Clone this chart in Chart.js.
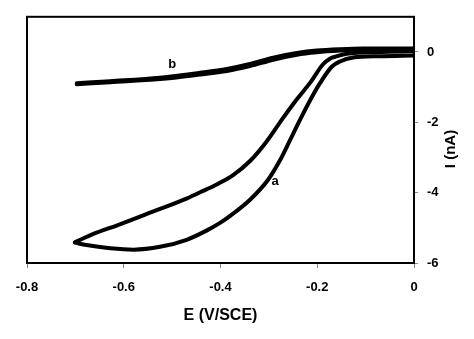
<!DOCTYPE html>
<html>
<head>
<meta charset="utf-8">
<script src="https://cdn.jsdelivr.net/npm/chart.js@4/dist/chart.umd.min.js"></script>
<style>
  html, body { margin: 0; padding: 0; background: #fff; }
  #wrap { width: 474px; height: 339px; }
</style>
</head>
<body>
<div id="wrap"><canvas id="c" width="474" height="339"></canvas></div>
<script>
// ---- data ----
const xTicks = [-0.8, -0.6, -0.4, -0.2, 0];
const xTickLabels = ['-0.8', '-0.6', '-0.4', '-0.2', '0'];
const yTicks = [-6, -4, -2, 0];
const yTickLabels = ['-6', '-4', '-2', '0'];

// curve a, cathodic sweep (0 -> -0.7 V)
const aFwdE = [0, -0.070, -0.126, -0.153, -0.170, -0.194, -0.215, -0.236, -0.256, -0.277, -0.302, -0.339, -0.380, -0.401, -0.429, -0.470, -0.525, -0.580, -0.628, -0.677, -0.701];
const aFwdI = [-0.10, -0.12, -0.16, -0.27, -0.42, -0.88, -1.38, -1.94, -2.50, -3.08, -3.64, -4.20, -4.66, -4.86, -5.08, -5.34, -5.54, -5.62, -5.58, -5.49, -5.42];
// curve a, return sweep (-0.7 -> 0 V)
const aRetE = [-0.701, -0.664, -0.608, -0.540, -0.469, -0.442, -0.407, -0.374, -0.339, -0.305, -0.277, -0.243, -0.215, -0.188, -0.174, -0.159, -0.139, -0.070, 0];
const aRetI = [-5.41, -5.18, -4.90, -4.54, -4.16, -3.99, -3.76, -3.50, -3.10, -2.55, -2.00, -1.36, -0.88, -0.35, -0.19, -0.12, -0.05, 0.00, 0.02];

// curve b (two overlapping sweeps)
const bE = [-0.697, -0.628, -0.525, -0.442, -0.387, -0.339, -0.291, -0.242, -0.201, -0.153, -0.105, 0];
const bFwdI = [-0.92, -0.86, -0.77, -0.64, -0.54, -0.40, -0.22, -0.08, -0.01, 0.04, 0.07, 0.06];
const bRetI = [-0.89, -0.83, -0.73, -0.59, -0.48, -0.34, -0.16, -0.03, 0.04, 0.08, 0.10, 0.10];

// curve labels
const curveLabels = ['a', 'b'];
const curveLabelE = [-0.287, -0.500];
const curveLabelI = [-3.68, -0.35];

const xTitle = 'E (V/SCE)';
const yTitle = 'I (nA)';

// ---- build ----
const pts = (E, I) => E.map((e, i) => ({ x: e, y: I[i] }));
const FONT = "'Liberation Sans', Arial, Helvetica, sans-serif";

function lineDs(E, I, w) {
  return {
    data: pts(E, I), showLine: true, borderColor: '#000', backgroundColor: '#000',
    borderWidth: w, pointRadius: 0, cubicInterpolationMode: 'monotone', fill: false,
    borderCapStyle: 'round', borderJoinStyle: 'round'
  };
}

const framePlugin = {
  id: 'frame',
  afterDatasetsDraw(chart) {
    const { ctx, chartArea: a, scales } = chart;
    ctx.save();
    ctx.strokeStyle = '#000';
    ctx.lineWidth = 2;
    ctx.strokeRect(a.left, a.top, a.right - a.left, a.bottom - a.top);
    // curve labels
    ctx.fillStyle = '#000';
    ctx.font = 'bold 13px ' + FONT;
    ctx.textAlign = 'center';
    ctx.textBaseline = 'middle';
    curveLabels.forEach((t, i) => {
      ctx.fillText(t, scales.x.getPixelForValue(curveLabelE[i]), scales.y.getPixelForValue(curveLabelI[i]));
    });
    // y axis title, reading bottom to top
    ctx.font = 'bold 15px ' + FONT;
    ctx.translate(451, 149);
    ctx.rotate(-Math.PI / 2);
    ctx.fillText(yTitle, 0, 0);
    ctx.restore();
  }
};

new Chart(document.getElementById('c'), {
  type: 'scatter',
  data: {
    datasets: [
      lineDs(aFwdE, aFwdI, 4),
      lineDs(aRetE, aRetI, 4),
      lineDs(bE, bFwdI, 4),
      lineDs(bE, bRetI, 4)
    ]
  },
  options: {
    responsive: false,
    animation: false,
    devicePixelRatio: 1,
    layout: { padding: { left: 27, top: 13, right: 0, bottom: 0 } },
    plugins: { legend: { display: false }, tooltip: { enabled: false } },
    scales: {
      x: {
        type: 'linear', position: 'bottom', min: -0.8, max: 0,
        afterBuildTicks: s => { s.ticks = xTicks.map(v => ({ value: v })); },
        afterFit: s => { s.height = 76; },
        ticks: {
          color: '#000', font: { family: FONT, size: 13, weight: 'bold' }, padding: 12,
          maxRotation: 0, autoSkip: false,
          callback: (v, i) => xTickLabels[i]
        },
        grid: { display: true, drawOnChartArea: false, drawTicks: true, tickLength: 5, color: '#888', lineWidth: 1 },
        border: { display: true, color: '#000', width: 2 },
        title: { display: true, text: xTitle, color: '#000', font: { family: FONT, size: 16, weight: 'bold' }, padding: { top: 0, bottom: 14 } }
      },
      y: {
        type: 'linear', position: 'right', min: -6, max: 1,
        afterBuildTicks: s => { s.ticks = yTicks.map(v => ({ value: v })); },
        afterFit: s => { s.width = 60; },
        ticks: {
          color: '#000', font: { family: FONT, size: 13, weight: 'bold' }, padding: 9,
          autoSkip: false,
          callback: (v, i) => yTickLabels[i]
        },
        grid: { display: true, drawOnChartArea: false, drawTicks: true, tickLength: 4, color: '#888', lineWidth: 1 },
        border: { display: true, color: '#000', width: 2 }
      }
    }
  },
  plugins: [framePlugin]
});
</script>
</body>
</html>
